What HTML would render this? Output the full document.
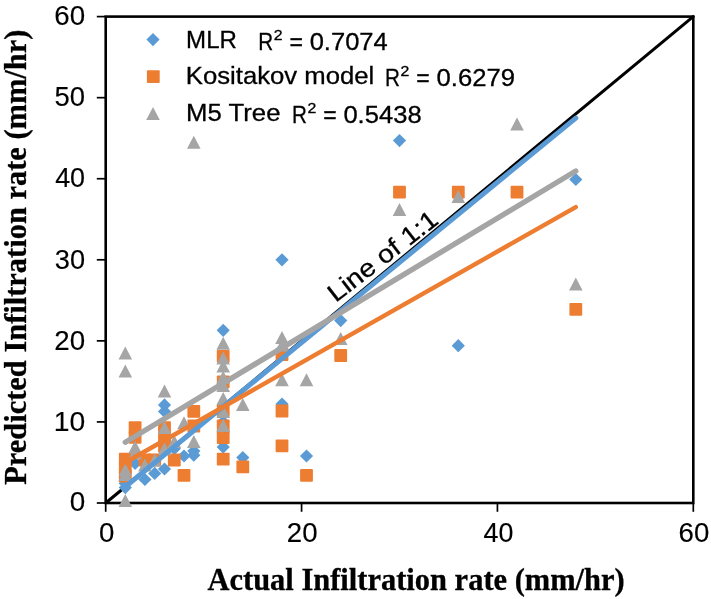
<!DOCTYPE html>
<html lang="en"><head><meta charset="utf-8"><title>Predicted vs Actual Infiltration rate</title>
<style>html,body{margin:0;padding:0;background:#fff}svg{display:block}.t{font-family:"Liberation Sans",Arial,sans-serif;fill:#000;stroke:#000;stroke-width:0.3}.n{font-family:"Liberation Sans",Arial,sans-serif;fill:#000;stroke:#000;stroke-width:0.15}.b{font-family:"Liberation Serif","Times New Roman",serif;font-weight:bold;fill:#000;stroke:#000;stroke-width:0.3}</style></head><body>
<svg width="711" height="599" viewBox="0 0 711 599">
<rect width="711" height="599" fill="#fff"/>
<g stroke="#000" stroke-width="1.7" fill="none">
<line x1="96.8" y1="503.00" x2="105.70" y2="503.00"/>
<line x1="96.8" y1="421.93" x2="105.70" y2="421.93"/>
<line x1="96.8" y1="340.87" x2="105.70" y2="340.87"/>
<line x1="96.8" y1="259.80" x2="105.70" y2="259.80"/>
<line x1="96.8" y1="178.73" x2="105.70" y2="178.73"/>
<line x1="96.8" y1="97.67" x2="105.70" y2="97.67"/>
<line x1="96.8" y1="16.60" x2="105.70" y2="16.60"/>
<line x1="105.70" y1="503.00" x2="105.70" y2="511.8"/>
<line x1="301.57" y1="503.00" x2="301.57" y2="511.8"/>
<line x1="497.43" y1="503.00" x2="497.43" y2="511.8"/>
<line x1="693.30" y1="503.00" x2="693.30" y2="511.8"/>
</g>
<rect x="105.70" y="16.60" width="587.60" height="486.40" fill="none" stroke="#000" stroke-width="2.6"/>
<line x1="105.70" y1="503.00" x2="694.10" y2="15.94" stroke="#000" stroke-width="3.0"/>
<g fill="#5B9BD5">
<path d="M125.3 481.0L131.9 487.6L125.3 494.2L118.7 487.6Z"/>
<path d="M125.3 476.9L131.9 483.5L125.3 490.1L118.7 483.5Z"/>
<path d="M135.1 456.7L141.7 463.3L135.1 469.9L128.5 463.3Z"/>
<path d="M144.9 472.9L151.5 479.5L144.9 486.1L138.3 479.5Z"/>
<path d="M154.7 466.8L161.3 473.4L154.7 480.0L148.1 473.4Z"/>
<path d="M164.5 462.4L171.1 469.0L164.5 475.6L157.9 469.0Z"/>
<path d="M164.5 398.3L171.1 404.9L164.5 411.5L157.9 404.9Z"/>
<path d="M164.5 404.8L171.1 411.4L164.5 418.0L157.9 411.4Z"/>
<path d="M174.3 442.1L180.9 448.7L174.3 455.3L167.7 448.7Z"/>
<path d="M184.0 449.4L190.6 456.0L184.0 462.6L177.4 456.0Z"/>
<path d="M193.8 444.5L200.4 451.1L193.8 457.7L187.2 451.1Z"/>
<path d="M193.8 448.6L200.4 455.2L193.8 461.8L187.2 455.2Z"/>
<path d="M223.2 323.7L229.8 330.3L223.2 336.9L216.6 330.3Z"/>
<path d="M223.2 415.3L229.8 421.9L223.2 428.5L216.6 421.9Z"/>
<path d="M223.2 440.5L229.8 447.1L223.2 453.7L216.6 447.1Z"/>
<path d="M242.8 451.0L249.4 457.6L242.8 464.2L236.2 457.6Z"/>
<path d="M282.0 253.2L288.6 259.8L282.0 266.4L275.4 259.8Z"/>
<path d="M282.0 397.5L288.6 404.1L282.0 410.7L275.4 404.1Z"/>
<path d="M282.0 342.4L288.6 349.0L282.0 355.6L275.4 349.0Z"/>
<path d="M306.5 449.4L313.1 456.0L306.5 462.6L299.9 456.0Z"/>
<path d="M340.7 314.0L347.3 320.6L340.7 327.2L334.1 320.6Z"/>
<path d="M399.5 134.0L406.1 140.6L399.5 147.2L392.9 140.6Z"/>
<path d="M458.3 339.1L464.9 345.7L458.3 352.3L451.7 345.7Z"/>
<path d="M575.8 172.9L582.4 179.5L575.8 186.1L569.2 179.5Z"/>
</g>
<g fill="#ED7D31">
<rect x="118.9" y="452.8" width="12.8" height="12.8" rx="1"/>
<rect x="118.9" y="461.7" width="12.8" height="12.8" rx="1"/>
<rect x="118.9" y="469.8" width="12.8" height="12.8" rx="1"/>
<rect x="128.7" y="421.2" width="12.8" height="12.8" rx="1"/>
<rect x="128.7" y="430.9" width="12.8" height="12.8" rx="1"/>
<rect x="138.5" y="453.6" width="12.8" height="12.8" rx="1"/>
<rect x="148.3" y="453.6" width="12.8" height="12.8" rx="1"/>
<rect x="158.1" y="421.2" width="12.8" height="12.8" rx="1"/>
<rect x="158.1" y="431.7" width="12.8" height="12.8" rx="1"/>
<rect x="158.1" y="439.9" width="12.8" height="12.8" rx="1"/>
<rect x="167.9" y="453.6" width="12.8" height="12.8" rx="1"/>
<rect x="177.6" y="469.0" width="12.8" height="12.8" rx="1"/>
<rect x="187.4" y="405.0" width="12.8" height="12.8" rx="1"/>
<rect x="187.4" y="419.6" width="12.8" height="12.8" rx="1"/>
<rect x="216.8" y="349.9" width="12.8" height="12.8" rx="1"/>
<rect x="216.8" y="375.4" width="12.8" height="12.8" rx="1"/>
<rect x="216.8" y="404.2" width="12.8" height="12.8" rx="1"/>
<rect x="216.8" y="419.6" width="12.8" height="12.8" rx="1"/>
<rect x="216.8" y="431.3" width="12.8" height="12.8" rx="1"/>
<rect x="216.8" y="452.8" width="12.8" height="12.8" rx="1"/>
<rect x="236.4" y="460.5" width="12.8" height="12.8" rx="1"/>
<rect x="275.6" y="348.2" width="12.8" height="12.8" rx="1"/>
<rect x="275.6" y="404.6" width="12.8" height="12.8" rx="1"/>
<rect x="275.6" y="439.4" width="12.8" height="12.8" rx="1"/>
<rect x="300.1" y="469.0" width="12.8" height="12.8" rx="1"/>
<rect x="334.3" y="349.1" width="12.8" height="12.8" rx="1"/>
<rect x="393.1" y="185.7" width="12.8" height="12.8" rx="1"/>
<rect x="451.9" y="185.7" width="12.8" height="12.8" rx="1"/>
<rect x="510.6" y="185.7" width="12.8" height="12.8" rx="1"/>
<rect x="569.4" y="302.9" width="12.8" height="12.8" rx="1"/>
</g>
<g fill="#A5A5A5">
<path d="M125.3 494.1L132.1 507.1L118.5 507.1Z"/>
<path d="M125.3 463.3L132.1 476.3L118.5 476.3Z"/>
<path d="M125.3 468.1L132.1 481.1L118.5 481.1Z"/>
<path d="M125.3 346.5L132.1 359.5L118.5 359.5Z"/>
<path d="M125.3 364.4L132.1 377.4L118.5 377.4Z"/>
<path d="M135.1 440.6L141.9 453.6L128.3 453.6Z"/>
<path d="M135.1 446.2L141.9 459.2L128.3 459.2Z"/>
<path d="M144.9 458.4L151.7 471.4L138.1 471.4Z"/>
<path d="M154.7 453.5L161.5 466.5L147.9 466.5Z"/>
<path d="M164.5 384.6L171.3 397.6L157.7 397.6Z"/>
<path d="M164.5 421.1L171.3 434.1L157.7 434.1Z"/>
<path d="M164.5 442.2L171.3 455.2L157.7 455.2Z"/>
<path d="M174.3 434.9L181.1 447.9L167.5 447.9Z"/>
<path d="M184.0 416.2L190.8 429.2L177.2 429.2Z"/>
<path d="M193.8 434.9L200.6 447.9L187.0 447.9Z"/>
<path d="M193.8 135.8L200.6 148.8L187.0 148.8Z"/>
<path d="M223.2 336.8L230.0 349.8L216.4 349.8Z"/>
<path d="M223.2 351.4L230.0 364.4L216.4 364.4Z"/>
<path d="M223.2 359.5L230.0 372.5L216.4 372.5Z"/>
<path d="M223.2 370.8L230.0 383.8L216.4 383.8Z"/>
<path d="M223.2 379.0L230.0 392.0L216.4 392.0Z"/>
<path d="M223.2 391.9L230.0 404.9L216.4 404.9Z"/>
<path d="M223.2 404.9L230.0 417.9L216.4 417.9Z"/>
<path d="M223.2 419.1L230.0 432.1L216.4 432.1Z"/>
<path d="M242.8 398.0L249.6 411.0L236.0 411.0Z"/>
<path d="M282.0 331.1L288.8 344.1L275.2 344.1Z"/>
<path d="M282.0 338.4L288.8 351.4L275.2 351.4Z"/>
<path d="M282.0 373.3L288.8 386.3L275.2 386.3Z"/>
<path d="M306.5 373.3L313.3 386.3L299.7 386.3Z"/>
<path d="M340.7 331.9L347.5 344.9L333.9 344.9Z"/>
<path d="M399.5 203.0L406.3 216.0L392.7 216.0Z"/>
<path d="M458.3 190.1L465.1 203.1L451.5 203.1Z"/>
<path d="M517.0 117.5L523.8 130.5L510.2 130.5Z"/>
<path d="M575.8 277.6L582.6 290.6L569.0 290.6Z"/>
</g>
<line x1="125.29" y1="486.79" x2="575.78" y2="118.18" stroke="#5B9BD5" stroke-width="5.0" stroke-linecap="round"/>
<line x1="125.29" y1="462.47" x2="575.78" y2="207.11" stroke="#ED7D31" stroke-width="4.4" stroke-linecap="round"/>
<line x1="125.29" y1="442.20" x2="575.78" y2="171.03" stroke="#A5A5A5" stroke-width="5.4" stroke-linecap="round"/>
<text class="n" font-size="26.8" transform="translate(69.64 511.00) scale(1.0394 1)">0</text>
<text class="n" font-size="26.8" transform="translate(53.70 430.63) scale(1.0551 1)">10</text>
<text class="n" font-size="26.8" transform="translate(54.29 349.57) scale(1.0345 1)">20</text>
<text class="n" font-size="26.8" transform="translate(54.86 268.50) scale(1.0147 1)">30</text>
<text class="n" font-size="26.8" transform="translate(55.14 187.43) scale(1.0051 1)">40</text>
<text class="n" font-size="26.8" transform="translate(54.58 106.37) scale(1.0245 1)">50</text>
<text class="n" font-size="26.8" transform="translate(54.29 25.30) scale(1.0345 1)">60</text>
<text class="n" font-size="26.8" transform="translate(98.90 542.20) scale(1.0318 1)">0</text>
<text class="n" font-size="26.8" transform="translate(286.81 542.20) scale(1.0309 1)">20</text>
<text class="n" font-size="26.8" transform="translate(483.52 542.20) scale(1.0016 1)">40</text>
<text class="n" font-size="26.8" transform="translate(678.54 542.20) scale(1.0309 1)">60</text>
<path fill="#5B9BD5" d="M153 33.0L159.6 39.6L153 46.2L146.4 39.6Z"/>
<rect fill="#ED7D31" x="146.9" y="70.2" width="12.8" height="12.8" rx="1"/>
<path fill="#A5A5A5" d="M153.0 106.9L159.8 119.9L146.2 119.9Z"/>
<text class="t" font-size="24.4" transform="translate(186.12 48.00) scale(0.9869 1)">MLR</text>
<text class="t" font-size="24.4" transform="translate(185.79 84.40) scale(1.0538 1)">Kositakov model</text>
<text class="t" font-size="24.4" transform="translate(186.09 120.80) scale(1.0550 1)">M5 Tree</text>
<text class="t" font-size="24.4" transform="translate(258.30 50.00) scale(0.8470 1)">R</text>
<text class="t" font-size="14.6" transform="translate(273.76 39.90) scale(1.0870 1)">2</text>
<text class="t" font-size="24.4" transform="translate(289.43 50.00) scale(0.9426 1)">=</text>
<text class="t" font-size="24.4" transform="translate(309.68 50.00) scale(1.0456 1)">0.7074</text>
<text class="t" font-size="24.4" transform="translate(385.10 86.40) scale(0.8470 1)">R</text>
<text class="t" font-size="14.6" transform="translate(400.56 76.30) scale(1.0870 1)">2</text>
<text class="t" font-size="24.4" transform="translate(416.23 86.40) scale(0.9426 1)">=</text>
<text class="t" font-size="24.4" transform="translate(436.48 86.40) scale(1.0526 1)">0.6279</text>
<text class="t" font-size="24.4" transform="translate(292.00 122.80) scale(0.8470 1)">R</text>
<text class="t" font-size="14.6" transform="translate(307.46 112.70) scale(1.0870 1)">2</text>
<text class="t" font-size="24.4" transform="translate(323.13 122.80) scale(0.9426 1)">=</text>
<text class="t" font-size="24.4" transform="translate(343.38 122.80) scale(1.0491 1)">0.5438</text>
<text class="t" font-size="25.2" transform="translate(337.40 301.80) rotate(-37.7) translate(-2.11 0.00) scale(1.1195 1)">Line of 1:1</text>
<text class="b" font-size="30.6" transform="translate(207.45 589.60) scale(0.9963 1)">Actual Infiltration rate (mm/hr)</text>
<text class="b" font-size="30.6" transform="translate(26.10 484.60) rotate(-90) translate(-0.15 0.00) scale(0.9949 1)">Predicted Infiltration rate (mm/hr)</text>
</svg></body></html>
